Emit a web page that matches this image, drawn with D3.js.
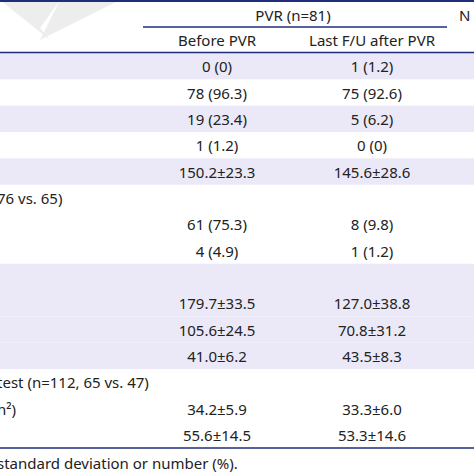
<!DOCTYPE html>
<html><head><meta charset="utf-8">
<script src="https://cdn.jsdelivr.net/npm/d3@7"></script>
<style>body{margin:0;background:#fff}</style></head>
<body><svg id="c" width="474" height="474"></svg>
<script>
const leftLabels = ["","","","","","76 vs. 65)","","","","","","","test (n=112, 65 vs. 47)","n²)",""];
const beforePVR = ["0 (0)","78 (96.3)","19 (23.4)","1 (1.2)","150.2±23.3","","61 (75.3)","4 (4.9)","","179.7±33.5","105.6±24.5","41.0±6.2","","34.2±5.9","55.6±14.5"];
const afterPVR = ["1 (1.2)","75 (92.6)","5 (6.2)","0 (0)","145.6±28.6","","8 (9.8)","1 (1.2)","","127.0±38.8","70.8±31.2","43.5±8.3","","33.3±6.0","53.3±14.6"];
const shaded = [0,2,4,8,9,10,11];
const headers = ["Before PVR","Last F/U after PVR"];

const svg = d3.select("#c");
const font = "'Noto Sans', sans-serif";
const navy = "#1f2d7a";
const y = d3.scaleBand().domain(d3.range(leftLabels.length)).range([53,448]);
const x = d3.scaleOrdinal().domain(headers).range([217,372]);

svg.append("path").attr("d","M0,0 L60,0 L40,28 L50,40 Z M60,0 L120,0 L40,40 Z").attr("fill","#e6e6e6").attr("opacity",0.7);

svg.selectAll("rect.sh").data(shaded).join("rect")
  .attr("x",0).attr("width",474).attr("y",d=>y(d)).attr("height",y.bandwidth()).attr("fill","#ebe9f8");

svg.append("line").attr("x1",0).attr("x2",474).attr("y1",1).attr("y2",1).attr("stroke",navy).attr("stroke-width",2);
svg.append("line").attr("x1",143).attr("x2",447).attr("y1",27).attr("y2",27).attr("stroke",navy).attr("stroke-width",1.5);
svg.append("line").attr("x1",0).attr("x2",474).attr("y1",52.5).attr("y2",52.5).attr("stroke",navy).attr("stroke-width",1.5);
svg.append("line").attr("x1",0).attr("x2",474).attr("y1",448).attr("y2",448).attr("stroke",navy).attr("stroke-width",1.5);

const t = (txt,xx,yy,anchor)=>svg.append("text").attr("x",xx).attr("y",yy).attr("text-anchor",anchor||"middle")
  .attr("dominant-baseline","central").attr("font-family",font).attr("font-size",15).attr("fill","#222").text(txt);

t("PVR (n=81)",293,15);
t("N",459,15,"start");
headers.forEach(h=>t(h,x(h),40));

const mid = i=>y(i)+y.bandwidth()/2;
leftLabels.forEach((l,i)=>{ if(l) t(l,-3,mid(i),"start"); });
beforePVR.forEach((v,i)=>t(v,x(headers[0]),mid(i)));
afterPVR.forEach((v,i)=>t(v,x(headers[1]),mid(i)));
t("standard deviation or number (%).",-3,463,"start");
</script></body></html>
